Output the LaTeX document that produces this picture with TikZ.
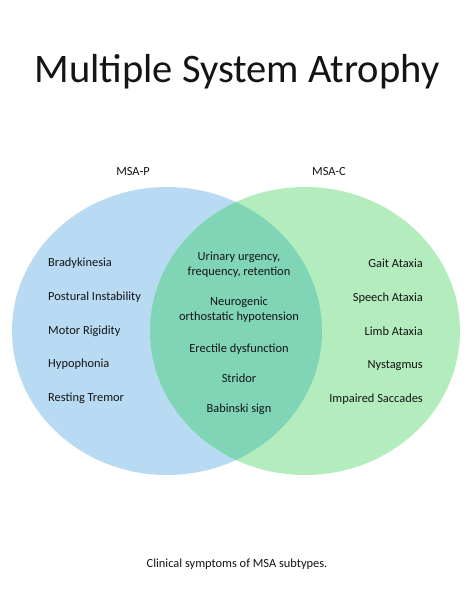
\documentclass[tikz,border=0pt]{standalone}
\usepackage{fontspec}
\setmainfont{Carlito}
\definecolor{msap}{HTML}{B8DAF3}
\definecolor{msac}{HTML}{B3ECBD}
\definecolor{both}{HTML}{80D5B6}
\definecolor{ink}{HTML}{141414}
\begin{document}
\begin{tikzpicture}[x=1pt,y=-1pt,
  lbl/.style={font=\fontsize{12.4}{15}\selectfont, text=ink, inner sep=0pt},
  lefttxt/.style={lbl, anchor=base west},
  righttxt/.style={lbl, anchor=base east},
  midtxt/.style={lbl, align=center},
  midone/.style={lbl, anchor=base}]
\useasboundingbox (0,0) rectangle (474,592);
\fill[white] (0,0) rectangle (474,592);
% circles
\fill[msap] (167,331) ellipse [x radius=155, y radius=144];
\fill[msac] (305,331) ellipse [x radius=155, y radius=144];
\begin{scope}
  \clip (167,331) ellipse [x radius=155, y radius=144];
  \fill[both] (305,331) ellipse [x radius=155, y radius=144];
\end{scope}
% title
\node[lbl, anchor=base, font=\fontsize{40.5}{48}\selectfont] (title) at (237,82) {Multiple System Atrophy};
% headers
\node[midone] (msap) at (133,175) {MSA-P};
\node[midone] (msac) at (329,175) {MSA-C};
% left
\node[lefttxt] (l1) at (48,266) {Bradykinesia};
\node[lefttxt] (l2) at (48,300) {Postural Instability};
\node[lefttxt] (l3) at (48,334) {Motor Rigidity};
\node[lefttxt] (l4) at (48,367) {Hypophonia};
\node[lefttxt] (l5) at (48,401) {Resting Tremor};
% right
\node[righttxt] (r1) at (423,267) {Gait Ataxia};
\node[righttxt] (r2) at (423,301) {Speech Ataxia};
\node[righttxt] (r3) at (423,335) {Limb Ataxia};
\node[righttxt] (r4) at (423,368) {Nystagmus};
\node[righttxt] (r5) at (423,402) {Impaired Saccades};
% middle
\node[midtxt] (m1) at (239,265) {Urinary urgency,\\frequency, retention};
\node[midtxt] (m2) at (239,310) {Neurogenic\\orthostatic hypotension};
\node[midone] (m3) at (239,352) {Erectile dysfunction};
\node[midone] (m4) at (239,382) {Stridor};
\node[midone] (m5) at (239,412) {Babinski sign};
% caption
\node[midone] (cap) at (237,567) {Clinical symptoms of MSA subtypes.};
\end{tikzpicture}
\end{document}
